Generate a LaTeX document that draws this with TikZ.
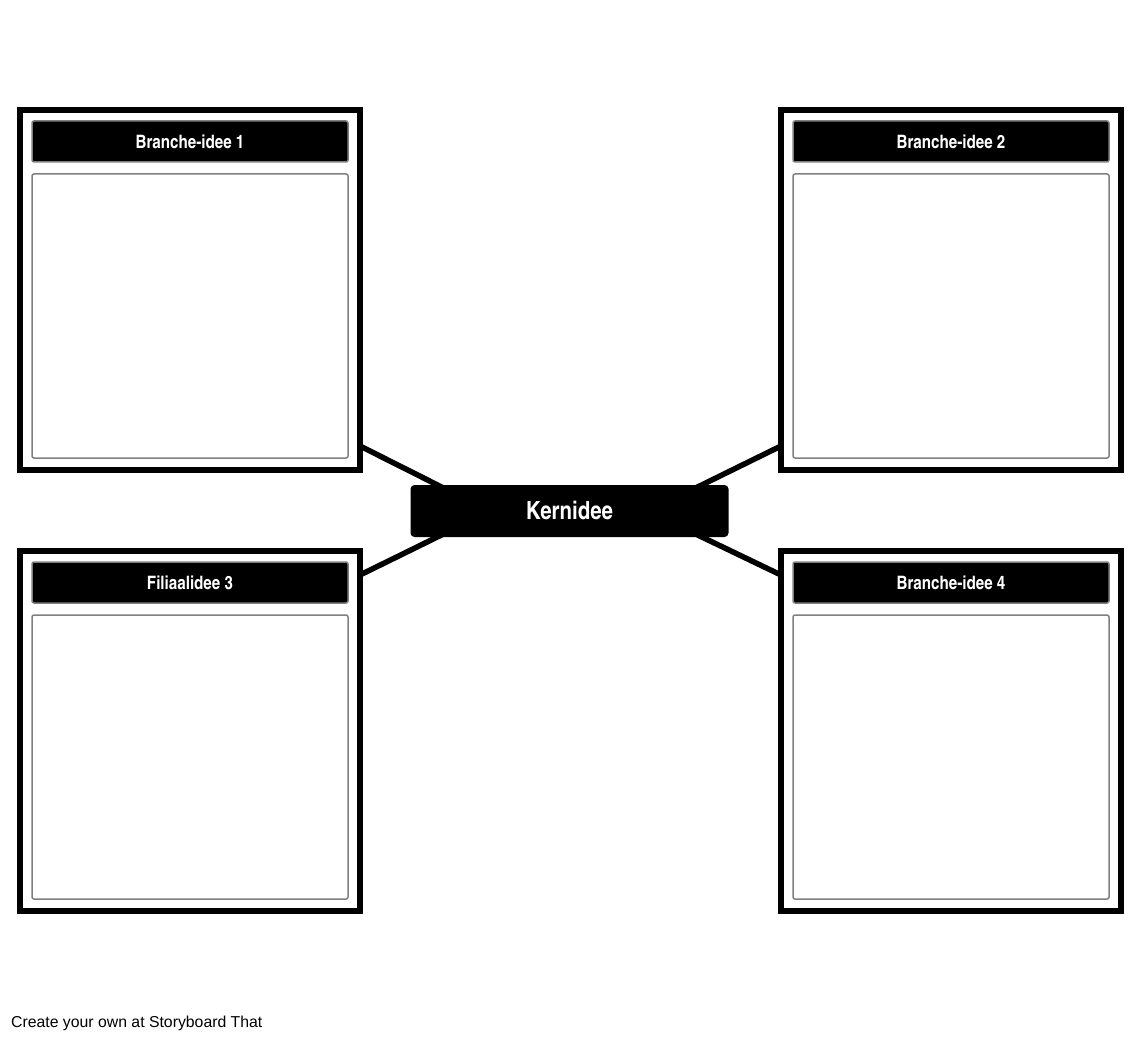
\documentclass[tikz,border=0pt]{standalone}
\usepackage{fontspec}
\setmainfont{Liberation Sans}
\newfontfamily\condfont{texgyreheroscn-bold.otf}
\usetikzlibrary{calc}
\tikzset{
  frame/.style={draw, line width=6pt, minimum width=340pt, minimum height=360pt, outer sep=0pt},
  head/.style={fill=black, draw=black!50, line width=1.5pt, rounded corners=2pt, minimum width=316pt, minimum height=41pt, outer sep=0pt, anchor=north, text=white, font=\condfont\fontsize{18.5}{22}\selectfont},
  field/.style={draw=black!50, line width=1.5pt, rounded corners=2pt, minimum width=316pt, minimum height=284pt, outer sep=0pt, anchor=north},
  core/.style={fill=black, rounded corners=4pt, minimum width=318pt, minimum height=52pt, outer sep=0pt, text=white, font=\condfont\fontsize{25}{30}\selectfont},
  link/.style={line width=5.5pt}
}
\begin{document}
\begin{tikzpicture}[x=1pt, y=-1pt]
  \useasboundingbox (0,0) rectangle (1143,1040);
  % four idea boxes
  \foreach \i/\p/\t in {1/{(190,290)}/Branche-idee 1, 2/{(951,290)}/Branche-idee 2, 3/{(190,731)}/Filiaalidee 3, 4/{(951,731)}/Branche-idee 4}{
    \node[frame] (b\i) at \p {};
    \node[head] (h\i) at ([yshift=-11pt]b\i.north) {\t};
    \node[field] (c\i) at ([yshift=-64pt]b\i.north) {};
  }
  \node[core] (kern) at (569.5,511) {Kernidee};
  % connectors
  \draw[link] ([yshift=-156pt]b1.east) -- ([xshift=36pt,yshift=-4.5pt]kern.north west);
  \draw[link] ([yshift=-156pt]b2.west) -- ([xshift=-36pt,yshift=-4.5pt]kern.north east);
  \draw[link] ([yshift=156pt]b3.east) -- ([xshift=36pt,yshift=4.5pt]kern.south west);
  \draw[link] ([yshift=156pt]b4.west) -- ([xshift=-36pt,yshift=4.5pt]kern.south east);
  \node[anchor=base west, inner sep=0pt, font=\fontsize{15.8}{18}\selectfont] (credit) at (11,1027) {Create your own at Storyboard That};
\end{tikzpicture}
\end{document}
